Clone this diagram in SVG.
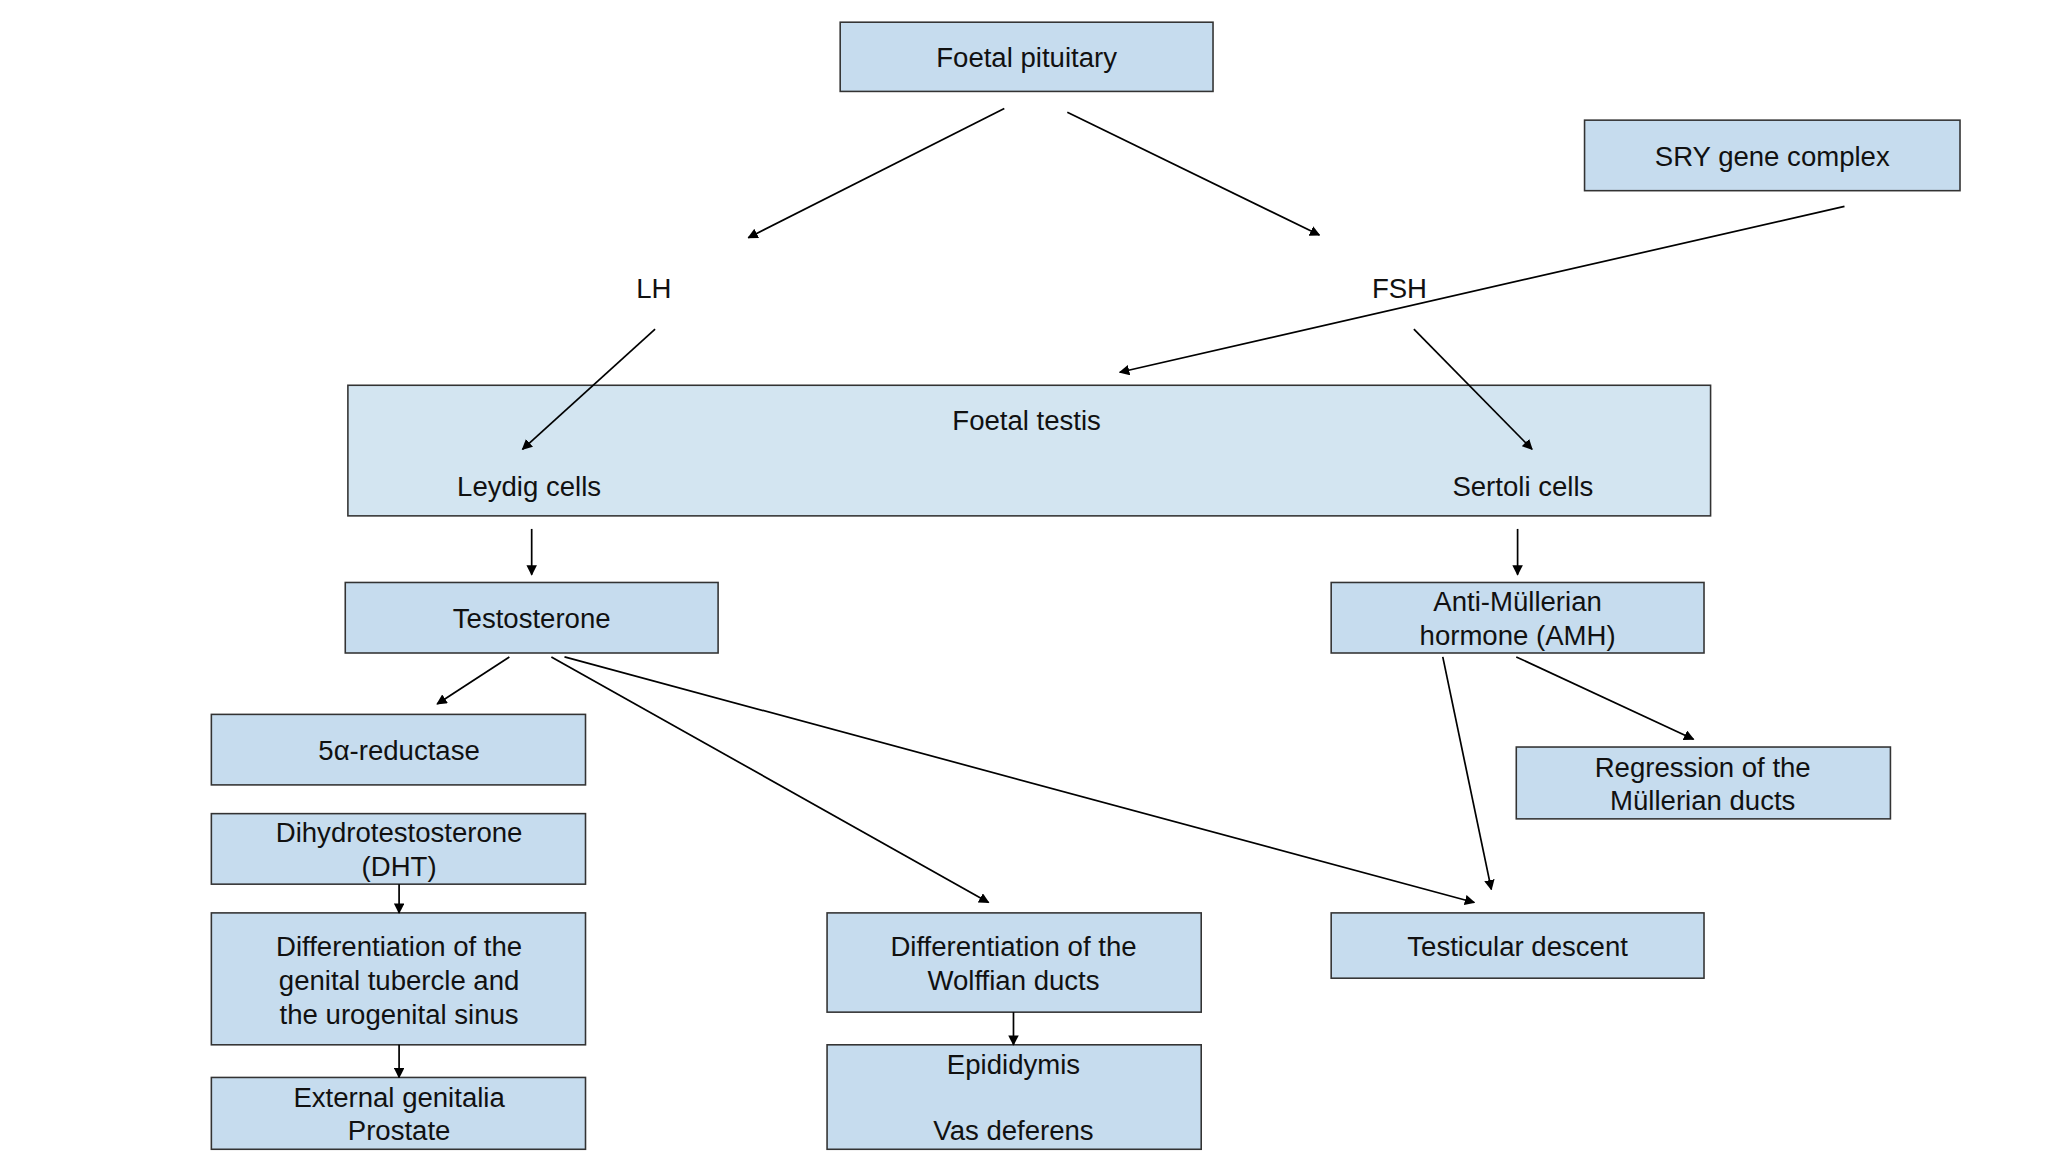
<svg xmlns="http://www.w3.org/2000/svg" width="2048" height="1152" viewBox="0 0 2048 1152">
<defs>
<marker id="ah" viewBox="0 0 10 10" refX="9" refY="5" markerWidth="8" markerHeight="8" markerUnits="userSpaceOnUse" orient="auto"><path d="M0,0 L10,5 L0,10 z" fill="#000"/></marker>
<style>
.b{fill:#c6dcee;stroke:#333;stroke-width:1.2}
.t{fill:#d3e5f1;stroke:#333;stroke-width:1.2}
text{font-family:"Liberation Sans",Arial,sans-serif;font-size:21px;fill:#111;text-anchor:middle}
.c line{stroke:#000;stroke-width:1.3;marker-end:url(#ah)}
</style>
</defs>
<rect width="2048" height="1152" fill="#fff"/>
<g transform="scale(1.3128,1.306)">
<g id="pituitary"><rect class="b" x="640" y="17" width="284" height="53"/><text x="782" y="51">Foetal pituitary</text></g>
<g id="sry"><rect class="b" x="1207" y="92" width="286" height="54"/><text x="1350" y="127">SRY gene complex</text></g>
<g id="lh"><text x="498" y="228">LH</text></g>
<g id="fsh"><text x="1066" y="228">FSH</text></g>
<g id="testis"><rect class="t" x="265" y="295" width="1038" height="100"/><text x="782" y="329">Foetal testis</text><text x="403" y="380">Leydig cells</text><text x="1160" y="380">Sertoli cells</text></g>
<g id="testosterone"><rect class="b" x="263" y="446" width="284" height="54"/><text x="405" y="481">Testosterone</text></g>
<g id="amh"><rect class="b" x="1014" y="446" width="284" height="54"/><text x="1156" y="468">Anti-Müllerian</text><text x="1156" y="494">hormone (AMH)</text></g>
<g id="reductase"><rect class="b" x="161" y="547" width="285" height="54"/><text x="304" y="582">5α-reductase</text></g>
<g id="dht"><rect class="b" x="161" y="623" width="285" height="54"/><text x="304" y="645">Dihydrotestosterone</text><text x="304" y="671">(DHT)</text></g>
<g id="genital"><rect class="b" x="161" y="699" width="285" height="101"/><text x="304" y="732">Differentiation of the</text><text x="304" y="758">genital tubercle and</text><text x="304" y="784">the urogenital sinus</text></g>
<g id="external"><rect class="b" x="161" y="825" width="285" height="55"/><text x="304" y="848">External genitalia</text><text x="304" y="873">Prostate</text></g>
<g id="wolffian"><rect class="b" x="630" y="699" width="285" height="76"/><text x="772" y="732">Differentiation of the</text><text x="772" y="758">Wolffian ducts</text></g>
<g id="epididymis"><rect class="b" x="630" y="800" width="285" height="80"/><text x="772" y="822">Epididymis</text><text x="772" y="873">Vas deferens</text></g>
<g id="descent"><rect class="b" x="1014" y="699" width="284" height="50"/><text x="1156" y="732">Testicular descent</text></g>
<g id="regression"><rect class="b" x="1155" y="572" width="285" height="55"/><text x="1297" y="595">Regression of the</text><text x="1297" y="620">Müllerian ducts</text></g>
<g id="connectors" class="c">
<line x1="765" y1="83" x2="570" y2="182"/>
<line x1="813" y1="86" x2="1005" y2="180"/>
<line x1="1405" y1="158" x2="853" y2="285"/>
<line x1="499" y1="252" x2="398" y2="344"/>
<line x1="1077" y1="252" x2="1167" y2="344"/>
<line x1="405" y1="405" x2="405" y2="440"/>
<line x1="1156" y1="405" x2="1156" y2="440"/>
<line x1="388" y1="503" x2="333" y2="539"/>
<line x1="420" y1="503" x2="753" y2="691"/>
<line x1="430" y1="503" x2="1123" y2="691"/>
<line x1="1099" y1="503" x2="1136" y2="681"/>
<line x1="1155" y1="503" x2="1290" y2="566"/>
<line x1="304" y1="677" x2="304" y2="699"/>
<line x1="304" y1="800" x2="304" y2="825"/>
<line x1="772" y1="775" x2="772" y2="800"/>
</g>
</g>
</svg>
